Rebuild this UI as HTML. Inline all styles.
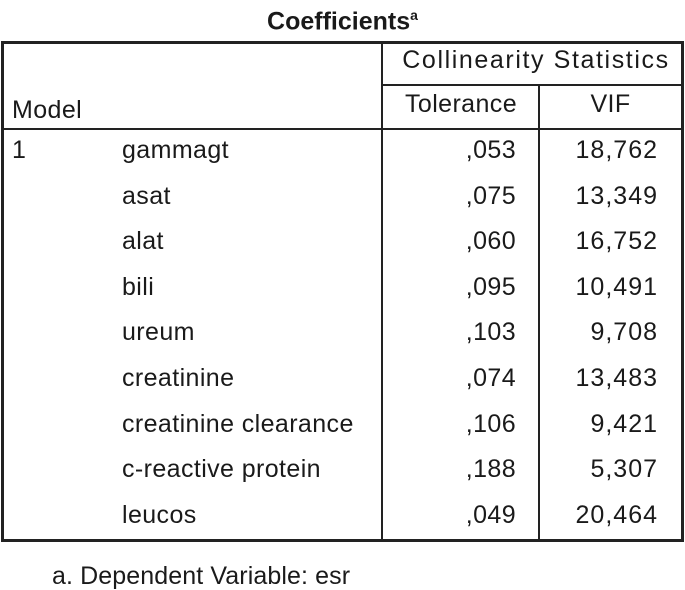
<!DOCTYPE html>
<html><head><meta charset="utf-8"><style>
body{margin:0;width:685px;height:586px;background:#fff;position:relative;font-family:"Liberation Sans",Arial,sans-serif;color:#1a1a1a;overflow:hidden}
.t{position:absolute;font-size:25px;line-height:28px;white-space:nowrap;letter-spacing:0.4px}
.ln{position:absolute;background:#222}
</style></head><body>
<div class="t" style="left:0;width:685px;top:1px;text-align:center;font-weight:bold;font-size:25px;letter-spacing:0">Coefficients<sup style="font-size:14px">a</sup></div>
<div>
<div class="ln" style="left:1px;top:41px;width:683px;height:3px"></div>
<div class="ln" style="left:1px;top:539px;width:683px;height:3px"></div>
<div class="ln" style="left:1px;top:41px;width:3px;height:501px"></div>
<div class="ln" style="left:681px;top:41px;width:3px;height:501px"></div>
<div class="ln" style="left:381px;top:41px;width:2px;height:501px"></div>
<div class="ln" style="left:538px;top:85px;width:2px;height:457px"></div>
<div class="ln" style="left:381px;top:84px;width:303px;height:2px"></div>
<div class="ln" style="left:1px;top:128px;width:683px;height:2px"></div>
<div class="t" style="left:386px;width:300px;top:46px;text-align:center;letter-spacing:1.6px">Collinearity Statistics</div>
<div class="t" style="left:383px;width:156px;top:90px;text-align:center">Tolerance</div>
<div class="t" style="left:540px;width:141px;top:90px;text-align:center">VIF</div>
<div class="t" style="left:12px;top:96px">Model</div>
<div id="rows"></div>
</div>
<div class="t" style="left:52px;top:562px;letter-spacing:0.1px">a. Dependent Variable: esr</div>
<script>
const names=["gammagt","asat","alat","bili","ureum","creatinine","creatinine clearance","c-reactive protein","leucos"];
const tolerance=[",053",",075",",060",",095",",103",",074",",106",",188",",049"];
const vif=["18,762","13,349","16,752","10,491","9,708","13,483","9,421","5,307","20,464"];
const rows=document.getElementById('rows');
function mk(txt,style,name){const d=document.createElement('div');d.className='t';d.textContent=txt;d.style.cssText=style;


rows.appendChild(d);}
names.forEach((n,i)=>{const y=150+i*45.6-14;
if(i===0)mk("1","left:12px;top:"+y+"px","model-number");
mk(n,"left:122px;top:"+y+"px","variable-name");
mk(tolerance[i],"right:169px;top:"+y+"px;text-align:right","tolerance-value");
mk(vif[i],"right:27px;top:"+y+"px;text-align:right;letter-spacing:1px","vif-value");});
</script>
</body></html>
